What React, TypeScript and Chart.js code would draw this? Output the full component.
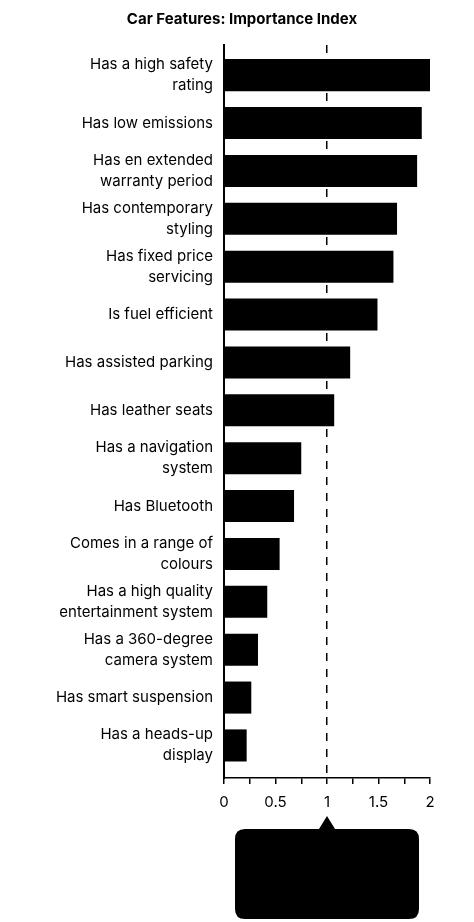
import React, { useEffect, useRef } from "react";
import { Chart, registerables } from "chart.js";

Chart.register(...registerables);

const title = "Car Features: Importance Index";

const categories: string[][] = [
  ["Has a high safety", "rating"],
  ["Has low emissions"],
  ["Has en extended", "warranty period"],
  ["Has contemporary", "styling"],
  ["Has fixed price", "servicing"],
  ["Is fuel efficient"],
  ["Has assisted parking"],
  ["Has leather seats"],
  ["Has a navigation", "system"],
  ["Has Bluetooth"],
  ["Comes in a range of", "colours"],
  ["Has a high quality", "entertainment system"],
  ["Has a 360-degree", "camera system"],
  ["Has smart suspension"],
  ["Has a heads-up", "display"],
];

const values: number[] = [
  2.0, 1.92, 1.875, 1.68, 1.645, 1.49, 1.225, 1.07, 0.75, 0.68, 0.54, 0.42, 0.33, 0.265, 0.22,
];

const xTicks: number[] = [0, 0.5, 1, 1.5, 2];
const referenceValue = 1;

const FONT = "Inter, 'Noto Sans', sans-serif";

export default function App() {
  const ref = useRef<HTMLCanvasElement | null>(null);

  useEffect(() => {
    document.body.style.margin = "0";
    const canvas = ref.current;
    if (!canvas) return;

    const calloutPlugin = {
      id: "callout",
      afterDraw(chart: any) {
        const ctx = chart.ctx;
        const xs = chart.scales.x;
        const area = chart.chartArea;
        const cx = xs.getPixelForValue(referenceValue);
        const w = 184;
        const top = area.bottom + 51;
        const h = 90;
        const r = 10;
        const left = cx - w / 2;
        ctx.save();
        ctx.fillStyle = "#000";
        ctx.beginPath();
        ctx.moveTo(left + r, top);
        ctx.lineTo(cx - 8, top);
        ctx.lineTo(cx, top - 13);
        ctx.lineTo(cx + 8, top);
        ctx.lineTo(left + w - r, top);
        ctx.quadraticCurveTo(left + w, top, left + w, top + r);
        ctx.lineTo(left + w, top + h - r);
        ctx.quadraticCurveTo(left + w, top + h, left + w - r, top + h);
        ctx.lineTo(left + r, top + h);
        ctx.quadraticCurveTo(left, top + h, left, top + h - r);
        ctx.lineTo(left, top + r);
        ctx.quadraticCurveTo(left, top, left + r, top);
        ctx.closePath();
        ctx.fill();
        ctx.restore();
      },
    };

    const chart = new Chart(canvas, {
      type: "bar",
      data: {
        datasets: [
          {
            data: values.map((v, i) => ({ x: v, y: i })),
            backgroundColor: "#000",
            borderWidth: 0,
            barPercentage: 0.67,
            categoryPercentage: 1,
          },
        ],
      },
      options: {
        indexAxis: "y",
        responsive: false,
        animation: false,
        devicePixelRatio: 1,
        layout: { padding: { left: 54, right: 44, top: 0, bottom: 104 } },
        plugins: {
          legend: { display: false },
          tooltip: { enabled: false },
          title: {
            display: true,
            text: title,
            color: "#000",
            font: { family: FONT, size: 15, weight: "bold", lineHeight: 1.2 },
            padding: { top: 10, bottom: 17 },
          },
        },
        scales: {
          x: {
            type: "linear",
            min: 0,
            max: 2,
            ticks: {
              stepSize: 0.25,
              autoSkip: false,
              maxRotation: 0,
              minRotation: 0,
              color: "#000",
              padding: 9,
              font: { family: FONT, size: 15 },
              callback: (v: any) => (xTicks.includes(Number(v)) ? String(Number(v)) : ""),
            },
            grid: {
              display: true,
              drawOnChartArea: true,
              drawTicks: true,
              tickLength: 6,
              tickWidth: 1.5,
              tickColor: "#000",
              lineWidth: 1.5,
              color: (c: any) => (c.tick && c.tick.value === referenceValue ? "#000" : "rgba(0,0,0,0)"),
            },
            border: { display: true, color: "#000", width: 1.5, dash: [8, 8] },
            afterFit: (s: any) => {
              s.height = 40;
            },
          },
          y: {
            type: "linear",
            reverse: true,
            offset: false,
            bounds: "data",
            min: -0.63,
            max: 14.68,
            ticks: {
              autoSkip: false,
              color: "#000",
              padding: 11,
              font: { family: FONT, size: 15, lineHeight: 1.4 },
              callback: (v: any) => {
                const n = Number(v);
                return Number.isInteger(n) && categories[n] ? categories[n] : "";
              },
            },
            afterBuildTicks: (s: any) => {
              s.ticks = categories.map((_, i) => ({ value: i }));
            },
            grid: { display: false, drawTicks: false, offset: false },
            border: { display: true, color: "#000", width: 2 },
            afterFit: (s: any) => {
              s.width = 170;
            },
          },
        },
      },
      plugins: [calloutPlugin],
    } as any);

    return () => chart.destroy();
  }, []);

  return (
    <div style={{ width: 474, height: 922 }}>
      <canvas ref={ref} width={474} height={922} />
    </div>
  );
}
